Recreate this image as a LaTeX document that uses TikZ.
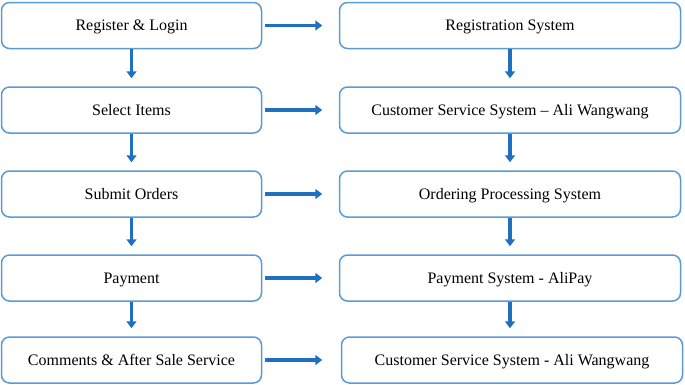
\documentclass[tikz,border=0pt]{standalone}
\usepackage{fontspec}
\setmainfont{Liberation Serif}
\usetikzlibrary{arrows.meta}
\definecolor{boxline}{HTML}{5B9BD5}
\definecolor{arrowblue}{HTML}{1F70C1}
\tikzset{
  stepbox/.style={draw=boxline, line width=1.5pt, rounded corners=8pt, minimum height=46pt, align=center, font=\fontsize{16}{18}\selectfont, inner sep=0pt, text height=11pt, text depth=1pt},
  leftbox/.style={stepbox, minimum width=260pt},
  rightbox/.style={stepbox, minimum width=341pt},
  flow/.style={draw=arrowblue, line width=3.8pt, -{Triangle[length=7pt,width=10pt]}},
}
\begin{document}
\begin{tikzpicture}[x=1pt,y=-1pt]
\useasboundingbox (0,0) rectangle (685,384);
\node[leftbox] (l1) at (131.5,25.5) {Register \& Login};
\node[leftbox] (l2) at (131.5,110) {Select Items};
\node[leftbox] (l3) at (131.5,194) {Submit Orders};
\node[leftbox] (l4) at (131.5,278) {Payment};
\node[leftbox] (l5) at (131.5,360) {Comments \& After Sale Service};
\node[rightbox] (r1) at (510,25.5) {Registration System};
\node[rightbox] (r2) at (510,110) {Customer Service System – Ali Wangwang};
\node[rightbox] (r3) at (510,194) {Ordering Processing System};
\node[rightbox] (r4) at (510,278) {Payment System - AliPay};
\node[rightbox] (r5) at (512,360) {Customer Service System - Ali Wangwang};
\foreach \i in {1,...,5}{
  \coordinate (hs\i) at ([xshift=3pt]l\i.east);
  \coordinate (he\i) at ([xshift=60pt]l\i.east);
  \draw[flow] (hs\i) -- (he\i);
}
\foreach \i/\j in {1/2,2/3,3/4,4/5}{
  \draw[flow] (l\i.south) -- ([yshift=8pt]l\j.north);
  \draw[flow] (r\i.south) -- ([yshift=8pt]r\j.north -| r\i.south);
}
\end{tikzpicture}
\end{document}
